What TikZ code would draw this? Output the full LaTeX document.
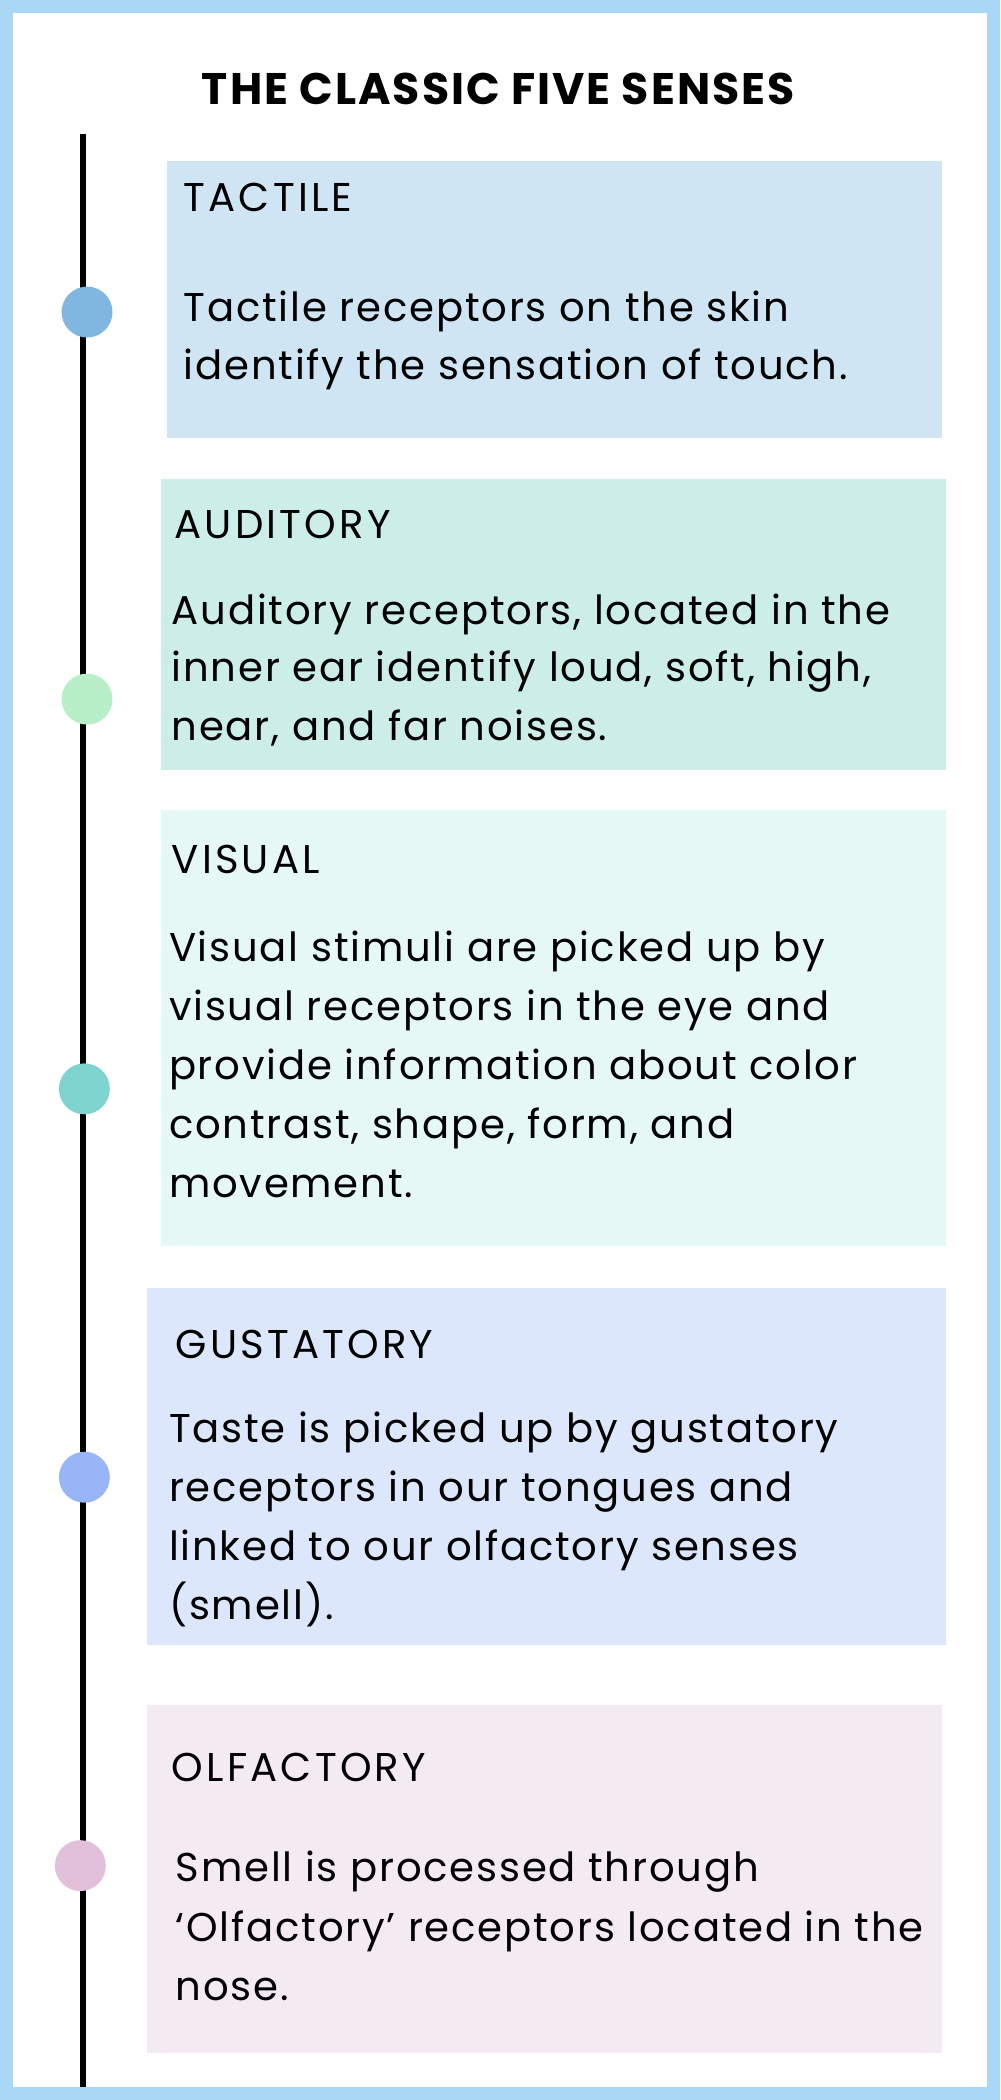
\documentclass[tikz,border=0pt]{standalone}
\usepackage{fontspec}
\setmainfont{Poppins}
\begin{document}
\begin{tikzpicture}[x=1pt,y=-1pt,
  txt/.style={anchor=base west,inner sep=0pt,font=\fontsize{30}{34}\selectfont\addfontfeature{LetterSpace=4.5}},
  ttl/.style={anchor=base west,inner sep=0pt,font=\fontsize{30}{34}\selectfont\addfontfeature{LetterSpace=8}},
  dot/.style={circle,minimum size=38pt,inner sep=0pt}]
\useasboundingbox (0,0) rectangle (747,1568);
\fill[white] (0,0) rectangle (747,1568);
\draw[line width=10pt,draw={rgb,255:red,168;green,216;blue,245}] (5,5) rectangle (742,1563);
\node[inner sep=0pt,anchor=base,font=\fontsize{33}{36}\selectfont\bfseries\addfontfeature{LetterSpace=4.5}] (title) at (372,78) {THE CLASSIC FIVE SENSES};
\draw[line width=4pt] (62,100) -- (62,1558);
% boxes
\fill[fill={rgb,255:red,207;green,229;blue,244}] (125,120) rectangle (703,327);
\fill[fill={rgb,255:red,205;green,237;blue,232}] (120,358) rectangle (706,575);
\fill[fill={rgb,255:red,230;green,248;blue,246}] (120,605) rectangle (706,930);
\fill[fill={rgb,255:red,221;green,231;blue,252}] (110,962) rectangle (706,1228);
\fill[fill={rgb,255:red,244;green,234;blue,242}] (110,1273) rectangle (703,1533);
% dots
\node[dot,fill={rgb,255:red,127;green,183;blue,224}] (d1) at (65,233) {};
\node[dot,fill={rgb,255:red,184;green,239;blue,201}] (d2) at (65,522) {};
\node[dot,fill={rgb,255:red,127;green,212;blue,208}] (d3) at (63,813) {};
\node[dot,fill={rgb,255:red,152;green,181;blue,247}] (d4) at (63,1103) {};
\node[dot,fill={rgb,255:red,226;green,192;blue,218}] (d5) at (60,1393) {};
% texts
\node[ttl] (t1) at (137,158) {TACTILE};
\node[txt] (t1a) at (137,240) {Tactile receptors on the skin};
\node[txt] (t1b) at (137,283) {identify the sensation of touch.};
\node[ttl] (t2) at (130,402) {AUDITORY};
\node[txt] (t2a) at (128,466) {Auditory receptors, located in the};
\node[txt] (t2b) at (128,509) {inner ear identify loud, soft, high,};
\node[txt] (t2c) at (128,553) {near, and far noises.};
\node[ttl] (t3) at (128,652) {VISUAL};
\node[txt] (t3a) at (126,718) {Visual stimuli are picked up by};
\node[txt] (t3b) at (126,762) {visual receptors in the eye and};
\node[txt] (t3c) at (126,806) {provide information about color};
\node[txt] (t3d) at (126,850) {contrast, shape, form, and};
\node[txt] (t3e) at (126,894) {movement.};
\node[ttl] (t4) at (131,1014) {GUSTATORY};
\node[txt] (t4a) at (126,1077) {Taste is picked up by gustatory};
\node[txt] (t4b) at (126,1121) {receptors in our tongues and};
\node[txt] (t4c) at (126,1165) {linked to our olfactory senses};
\node[txt] (t4d) at (126,1209) {(smell).};
\node[ttl] (t5) at (128,1330) {OLFACTORY};
\node[txt] (t5a) at (131,1405) {Smell is processed through};
\node[txt] (t5b) at (131,1450) {‘Olfactory’ receptors located in the};
\node[txt] (t5c) at (131,1494) {nose.};
\end{tikzpicture}
\end{document}
